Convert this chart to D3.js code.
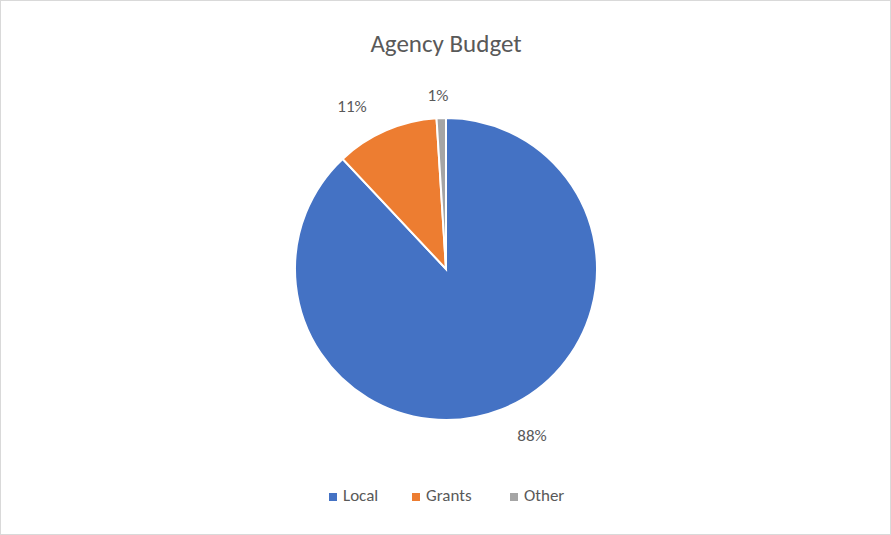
<!DOCTYPE html>
<html><head><meta charset="utf-8">
<script src="https://cdn.jsdelivr.net/npm/d3@7"></script>
<style>body{margin:0;background:#fff}</style>
</head><body><div id="chart"></div>
<script>
const categories = ["Local", "Grants", "Other"];
const values = [88, 11, 1];
const colors = ["#4472C4", "#ED7D31", "#A5A5A5"];
const labelPos = [[532, 437], [352, 108], [438, 97]];

const W = 891, H = 535;
const svg = d3.select("#chart").append("svg").attr("width", W).attr("height", H)
  .style("font-family", "Calibri, Carlito, 'Liberation Sans', sans-serif");

svg.append("rect").attr("x", 0.5).attr("y", 0.5).attr("width", W - 1).attr("height", H - 1)
  .attr("fill", "#fff").attr("stroke", "#d9d9d9");

svg.append("text").attr("x", 446).attr("y", 52).attr("text-anchor", "middle")
  .style("font-size", "25px").attr("fill", "#595959").text("Agency Budget");

const data = categories.map((c, i) => ({ name: c, value: values[i] }));
const pie = d3.pie().value(d => d.value).sort(null);
const arc = d3.arc().innerRadius(0).outerRadius(151);

const g = svg.append("g").attr("transform", "translate(446,269)");
g.selectAll("path").data(pie(data)).join("path")
  .attr("d", arc).attr("fill", (d, i) => colors[i])
  .attr("stroke", "#fff").attr("stroke-width", 2);

svg.selectAll(".lbl").data(data).join("text")
  .attr("x", (d, i) => labelPos[i][0]).attr("y", (d, i) => labelPos[i][1])
  .attr("text-anchor", "middle").attr("dominant-baseline", "middle")
  .style("font-size", "17px").attr("fill", "#595959")
  .text(d => d.value + "%");

const legX = [333, 416, 514];
const leg = svg.selectAll(".leg").data(data).join("g")
  .attr("transform", (d, i) => `translate(${legX[i]},497)`);
leg.append("rect").attr("x", -4).attr("y", -4).attr("width", 8).attr("height", 8)
  .attr("fill", (d, i) => colors[i]);
leg.append("text").attr("x", 10).attr("y", 0).attr("dominant-baseline", "middle")
  .style("font-size", "17px").attr("fill", "#595959").text(d => d.name);
</script></body></html>
